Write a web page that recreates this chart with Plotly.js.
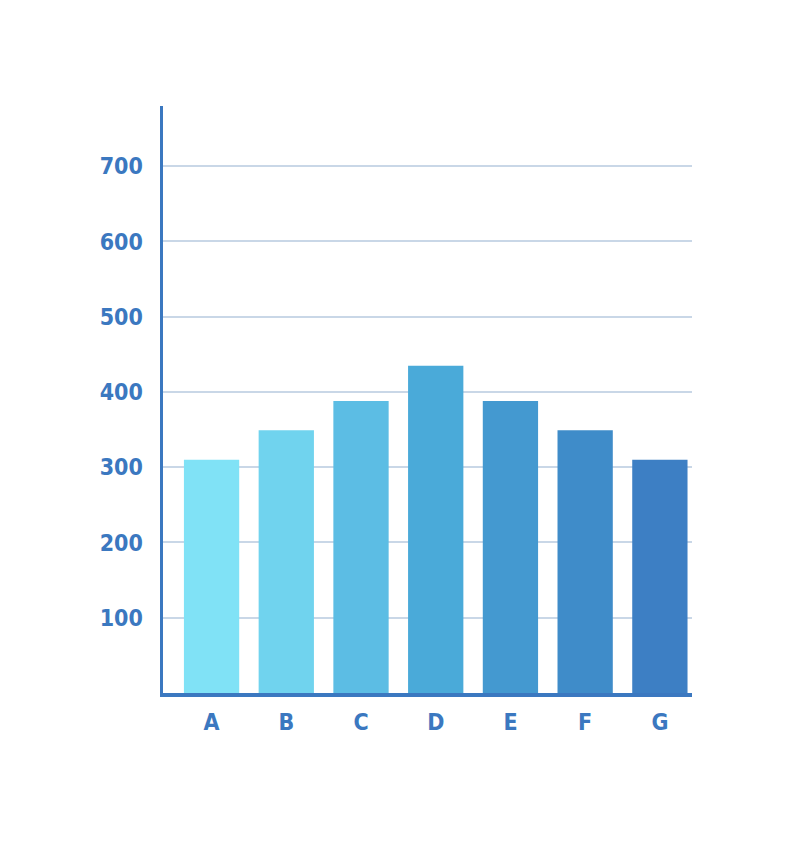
<!DOCTYPE html>
<html><head><meta charset="utf-8">
<script src="https://cdn.plot.ly/plotly-3.0.1.min.js"></script>
<style>html,body{margin:0;padding:0;background:#fff}#c{width:800px;height:841px}</style>
</head><body><div id="c"></div>
<script>
var categories = ['A','B','C','D','E','F','G'];
var values = [310, 349, 388, 435, 388, 349, 310];
var barColors = ['#80e2f6','#70d3ee','#5cbde4','#4aaad9','#4499d0','#3f8cc9','#3d7fc4'];
var yTicks = [100, 200, 300, 400, 500, 600, 700];
var yTickLabels = ['100','200','300','400','500','600','700'];

var fontFam = '"Liberation Sans Narrow","DejaVu Sans Condensed","Roboto Condensed",sans-serif';
var axisColor = '#3b78c0';

Plotly.newPlot('c', [{
  type: 'bar',
  x: categories,
  y: values,
  marker: {color: barColors, line: {width: 0}},
  hoverinfo: 'none'
}], {
  width: 800, height: 841,
  margin: {l: 163, r: 108, t: 106, b: 148},
  paper_bgcolor: '#ffffff', plot_bgcolor: '#ffffff',
  bargap: 0.26,
  showlegend: false,
  xaxis: {
    range: [-0.65, 6.43],
    showgrid: false, zeroline: false,
    showline: true, linecolor: axisColor, linewidth: 3.5,
    ticks: '', ticklabelstandoff: 6,
    tickfont: {family: fontFam, size: 23, color: axisColor, weight: 'bold'}
  },
  yaxis: {
    range: [0, 780],
    tickvals: yTicks, ticktext: yTickLabels,
    showgrid: true, gridcolor: '#c9d7e7', gridwidth: 2,
    zeroline: false,
    showline: true, linecolor: axisColor, linewidth: 3.5,
    ticks: '', ticklabelstandoff: 12,
    tickfont: {family: fontFam, size: 23, color: axisColor, weight: 'bold'}
  }
}, {staticPlot: true, displayModeBar: false});
</script></body></html>
